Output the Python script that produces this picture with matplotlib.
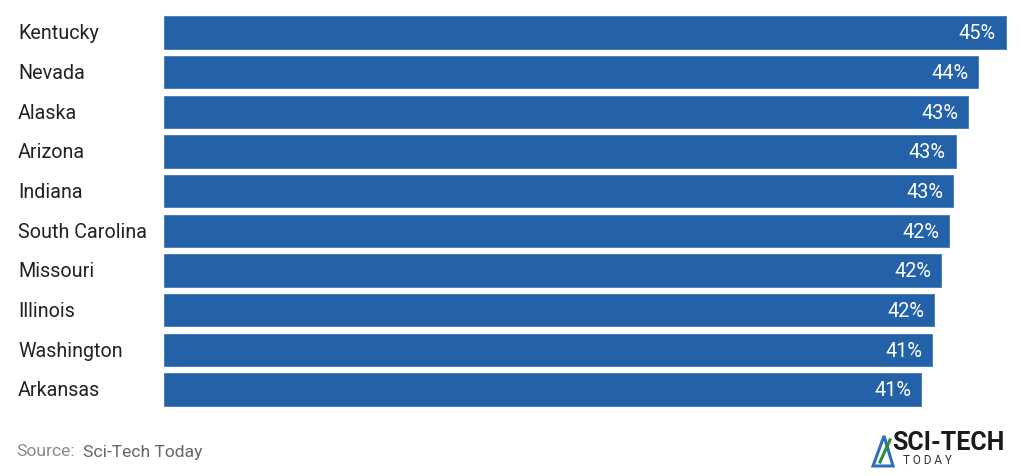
import matplotlib
matplotlib.use("Agg")
import matplotlib.pyplot as plt
import matplotlib.transforms as mtransforms

states = ["Kentucky", "Nevada", "Alaska", "Arizona", "Indiana",
          "South Carolina", "Missouri", "Illinois", "Washington", "Arkansas"]
values = [45.4, 43.9, 43.35, 42.7, 42.55, 42.35, 41.9, 41.55, 41.45, 40.85]

BAR = "#2362a9"
W, H = 1024, 476
fig = plt.figure(figsize=(W / 100, H / 100), dpi=100)
plt.rcParams['font.family'] = ['Roboto', 'DejaVu Sans']

ax = fig.add_axes([164 / W, 1 - 409.3 / H, (1008 - 164) / W, (409.3 - 12.7) / H])
ypos = list(range(len(states)))
ax.barh(ypos, values, height=0.81, color=BAR, edgecolor="#3d78b8", linewidth=0.6)
ax.set_xlim(0, 844 / 18.54)
ax.set_ylim(len(states) - 0.5, -0.5)
ax.axis("off")

for y, v in zip(ypos, values):
    ax.annotate(f"{round(v):d}%", xy=(v, y), xytext=(-7, -1), textcoords="offset points",
                ha="right", va="center", color="white", fontsize=14.3)

trans = mtransforms.blended_transform_factory(fig.transFigure, ax.transData)
for y, s in zip(ypos, states):
    ax.annotate(s, xy=(18 / W, y), xycoords=trans, xytext=(0, -1), textcoords="offset points",
                ha="left", va="center", fontsize=14.2, color="#222222", annotation_clip=False)

fig.text(16 / W, 1 - 452 / H, "Source:", ha="left", va="center", fontsize=12.6, color="#8a8a8a")
fig.text(83 / W, 1 - 452 / H, "Sci-Tech Today", ha="left", va="center", fontsize=12.6, color="#666666")

# logo
fig.text(892 / W, 1 - 443 / H, "SCI-TECH", ha="left", va="center", fontsize=18,
         fontweight="bold", color="#1a1a1a")
fig.text(903 / W, 1 - 461 / H, "T O D A Y", ha="left", va="center", fontsize=8.5, color="#333333")
tri = plt.Polygon([[873 / W, 1 - 466 / H], [884 / W, 1 - 436 / H], [893 / W, 1 - 466 / H]],
                  closed=True, fill=False, edgecolor="#2f6fb8", linewidth=2.2, transform=fig.transFigure)
fig.patches.append(tri)
fig.lines.append(plt.Line2D([880 / W, 890 / W], [1 - 462 / H, 1 - 440 / H], color="#2e8b3a",
                            linewidth=2.2, transform=fig.transFigure))

fig.savefig("out.png", dpi=100)
